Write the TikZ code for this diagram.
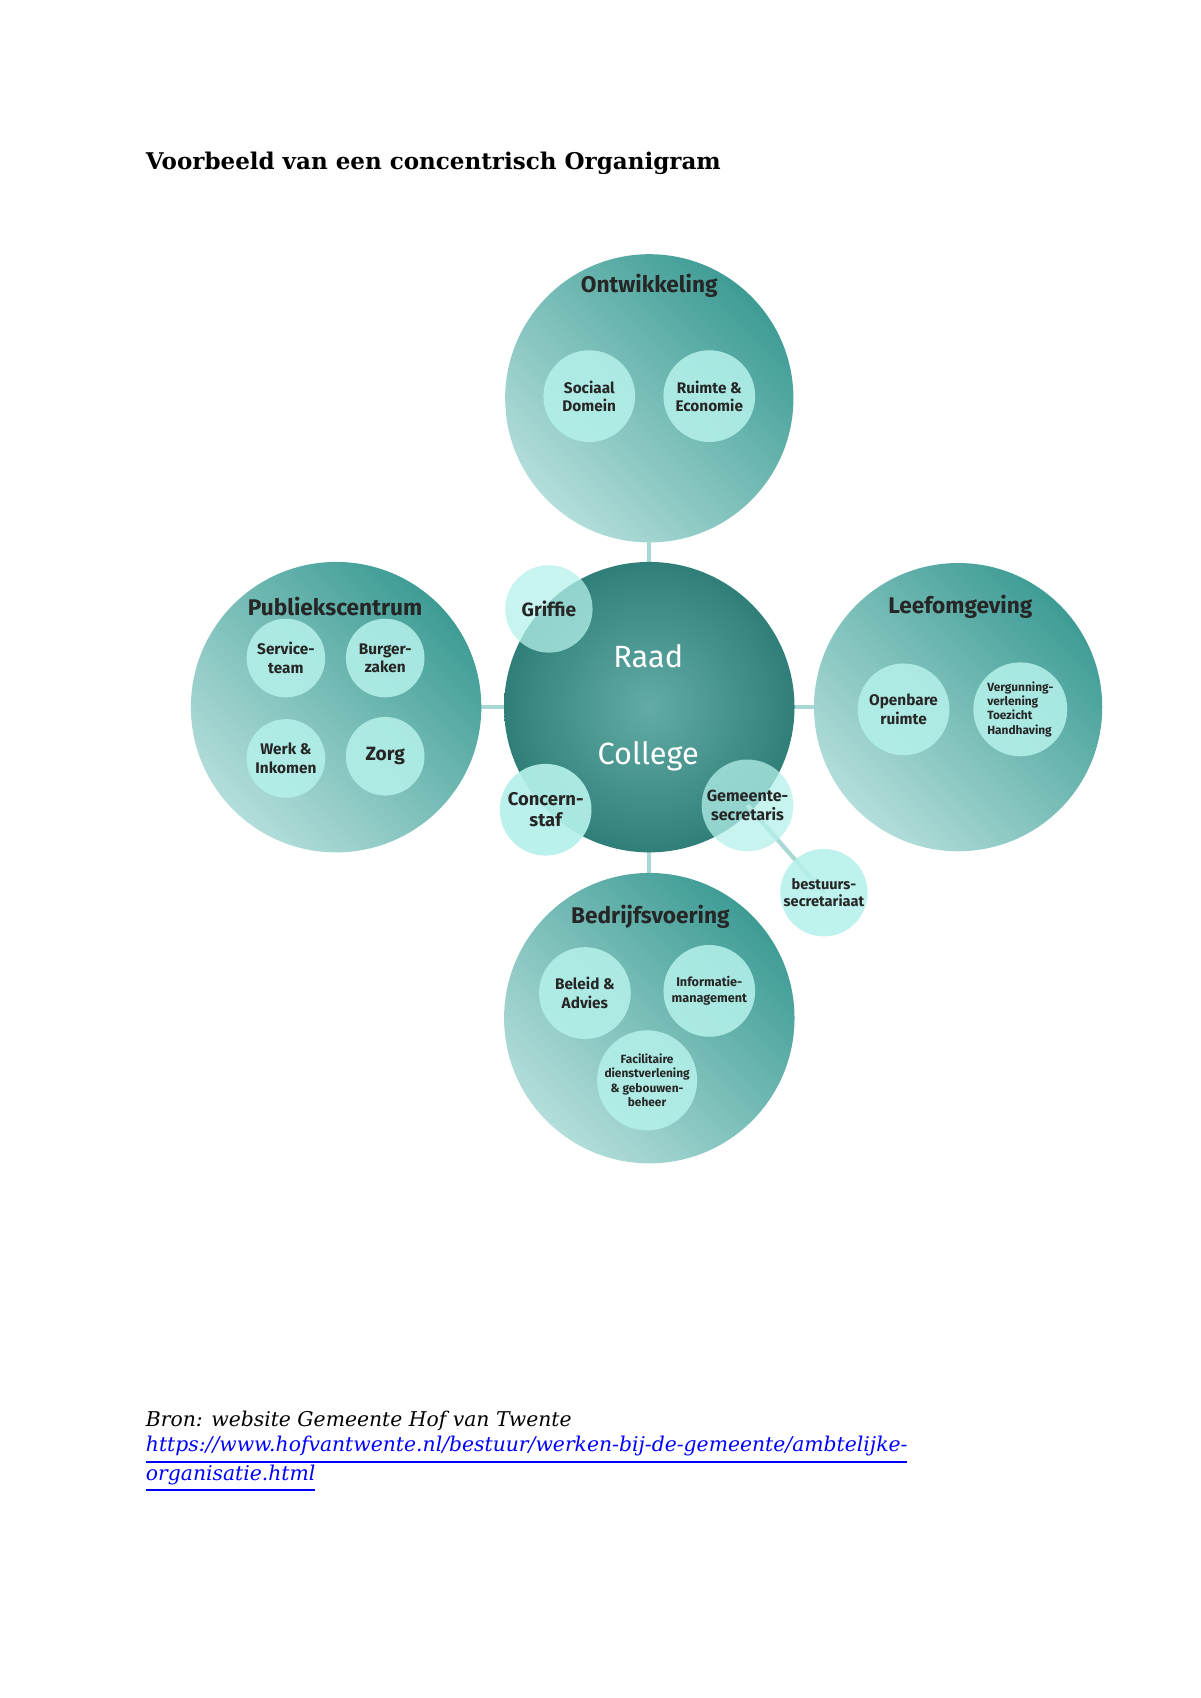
\documentclass[tikz,border=0pt]{standalone}
\usepackage{fontspec}
\setmainfont{DejaVu Serif}
\newfontfamily\lab{Fira Sans}
\begin{document}
\begin{tikzpicture}[x=0.01cm,y=-0.01cm,
 bigc/.style={shading=axis,left color=tA,right color=tB,shading angle=135},
 sub/.style={circle,fill=tS,fill opacity=0.88,text opacity=1,inner sep=0pt,font=\lab\bfseries\fontsize{4}{4.8}\selectfont,align=center,text=black!85},
 head/.style={font=\lab\bfseries\fontsize{5.9}{7}\selectfont,text=black!85},
 link/.style={draw=tL,line width=1.1pt}]
\definecolor{tA}{HTML}{B3DEDA}\definecolor{tB}{HTML}{3E9C95}
\definecolor{tS}{HTML}{B4F0EA}\definecolor{tL}{HTML}{A9D9D4}
\definecolor{tD}{HTML}{2F7F78}\definecolor{tM}{HTML}{63ACA6}
\useasboundingbox (0,0) rectangle (1100,1556);
\node[anchor=west,inner sep=0pt,font=\bfseries\fontsize{6}{7}\selectfont] (title) at (133,150) {Voorbeeld van een concentrisch Organigram};
% big circle centres
\coordinate (ont) at (595,365);
\coordinate (pub) at (308,648);
\coordinate (lee) at (878,648);
\coordinate (bed) at (595,933);
\coordinate (raad) at (595,648);
% connectors
\draw[link] (ont) -- (bed);
\draw[link] (pub) -- (lee);
% big circles
\shade[bigc] (ont) circle (1.32cm);
\shade[bigc] (pub) circle (1.33cm);
\shade[bigc] (lee) circle (1.32cm);
\shade[bigc] (bed) circle (1.33cm);
\shade[inner color=tM,outer color=tD] (raad) circle (1.33cm);
\coordinate (gs) at (685,738);
\coordinate (bs) at (755,818);
\draw[link] (gs) -- (bs);
% heads
\node[head] (h1) at (595,262) {Ontwikkeling};
\node[head] (h2) at (307,556) {Publiekscentrum};
\node[head] (h3) at (880,556) {Leefomgeving};
\node[head] (h4) at (596,840) {Bedrijfsvoering};
\node[font=\lab\fontsize{8}{9}\selectfont,text=white] (r1) at (594,601) {Raad};
\node[font=\lab\fontsize{8}{9}\selectfont,text=white] (r2) at (594,693) {College};
% subs
\node[sub,minimum size=0.84cm] (s1) at (540,363) {Sociaal\\Domein};
\node[sub,minimum size=0.84cm] (s2) at (650,363) {Ruimte \&\\Economie};
\node[sub,minimum size=0.72cm] (s3) at (262,603) {Service-\\team};
\node[sub,minimum size=0.72cm] (s4) at (353,603) {Burger-\\zaken};
\node[sub,minimum size=0.72cm] (s5) at (262,695) {Werk \&\\Inkomen};
\node[sub,minimum size=0.72cm,font=\lab\bfseries\fontsize{5}{6}\selectfont] (s6) at (353,693) {Zorg};
\node[sub,minimum size=0.84cm] (s7) at (828,650) {Openbare\\ruimte};
\node[sub,minimum size=0.86cm,font=\lab\bfseries\fontsize{3.1}{3.7}\selectfont,align=left] (s8) at (935,650) {Vergunning-\\verlening\\Toezicht\\Handhaving};
\node[sub,minimum size=0.84cm] (s9) at (536,910) {Beleid \&\\Advies};
\node[sub,minimum size=0.84cm,font=\lab\bfseries\fontsize{3.3}{4}\selectfont] (s10) at (650,908) {Informatie-\\management};
\node[sub,minimum size=0.84cm,font=\lab\bfseries\fontsize{3.1}{3.7}\selectfont] (s11) at (593,990) {Facilitaire\\dienstverlening\\\& gebouwen-\\beheer};
\node[sub,minimum size=0.80cm,fill opacity=0.75,font=\lab\bfseries\fontsize{5}{6}\selectfont] (g1) at (503,558) {Griffie};
\node[sub,minimum size=0.84cm,fill opacity=0.92,font=\lab\bfseries\fontsize{4.8}{5.6}\selectfont] (g2) at (500,742) {Concern-\\staf};
\node[sub,minimum size=0.84cm,fill opacity=0.75,font=\lab\bfseries\fontsize{4.2}{5}\selectfont] (g3) at (gs) {Gemeente-\\secretaris};
\node[sub,minimum size=0.80cm,font=\lab\bfseries\fontsize{3.8}{4.5}\selectfont] (g4) at (bs) {bestuurs-\\secretariaat};
% source
\node[anchor=west,inner sep=0pt,font=\itshape\fontsize{5.3}{6.5}\selectfont] (src) at (133,1302) {Bron: website Gemeente Hof van Twente};
\node[anchor=west,inner sep=0pt,font=\itshape\fontsize{5.3}{6.5}\selectfont,text=blue] (u1) at (133,1329) {\underline{https://www.hofvantwente.nl/bestuur/werken-bij-de-gemeente/ambtelijke-}};
\node[anchor=west,inner sep=0pt,font=\itshape\fontsize{5.3}{6.5}\selectfont,text=blue] (u2) at (133,1355) {\underline{organisatie.html}};
\end{tikzpicture}
\end{document}
